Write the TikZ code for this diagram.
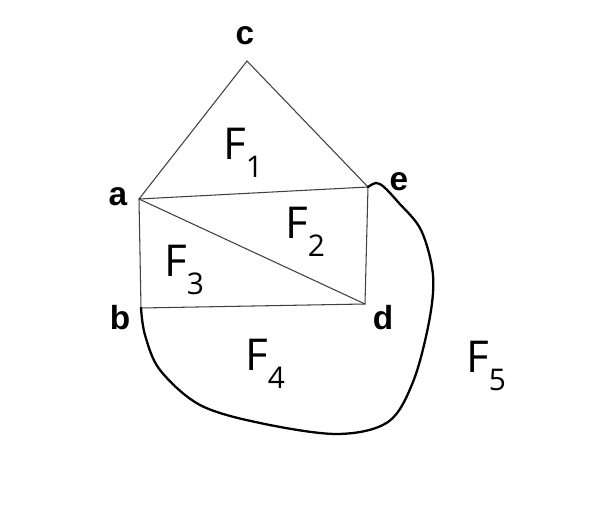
\documentclass[tikz,border=0pt]{standalone}
\usepackage{fontspec}
\newfontfamily\lblfont{Liberation Sans}
\newfontfamily\facefont{Open Sans}
\newcommand{\facelbl}[1]{F\raisebox{-0.4em}{\fontsize{17}{17}\selectfont #1}}
\tikzset{
    edge/.style={draw=black!75, line width=0.6pt},
    outer/.style={draw=black, line width=1.3pt, line cap=round},
    vertex/.style={font=\lblfont\bfseries\fontsize{19}{20}\selectfont},
    face/.style={font=\facefont\fontsize{25}{26}\selectfont}
}
\begin{document}
\begin{tikzpicture}[x=0.02cm, y=-0.02cm]
        \useasboundingbox (0,0) rectangle (600,514);
        \fill[white] (0,0) rectangle (600,514);

        % corners
        \coordinate (a) at (139,199);
        \coordinate (b) at (141,308);
        \coordinate (c) at (247,61);
        \coordinate (d) at (365,304);
        \coordinate (e) at (368,187);

        \node[vertex] (la) at (118,197) {a};
        \node[vertex] (lb) at (120,318) {b};
        \node[vertex] (lc) at (245,36) {c};
        \node[vertex] (ld) at (383,318) {d};
        \node[vertex] (le) at (399,182) {e};

        \draw[edge] (a) -- (c) -- (e) -- (d) -- (b) -- (a) -- (e);
        \draw[edge] (a) -- (d);

        \draw[outer] plot[smooth, tension=0.55] coordinates {(b) (145,335) (160,370) (200,405) (260,423) (337,434) (388,422) (413,382) (429,322) (433,275) (421,230) (398,202) (384,187) (376,183) (e)};

        \node[face] (f1) at (243,153) {\facelbl{1}};
        \node[face] (f2) at (305,232) {\facelbl{2}};
        \node[face] (f3) at (184,270) {\facelbl{3}};
        \node[face] (f4) at (265,364) {\facelbl{4}};
        \node[face] (f5) at (486,366) {\facelbl{5}};
\end{tikzpicture}
\end{document}
